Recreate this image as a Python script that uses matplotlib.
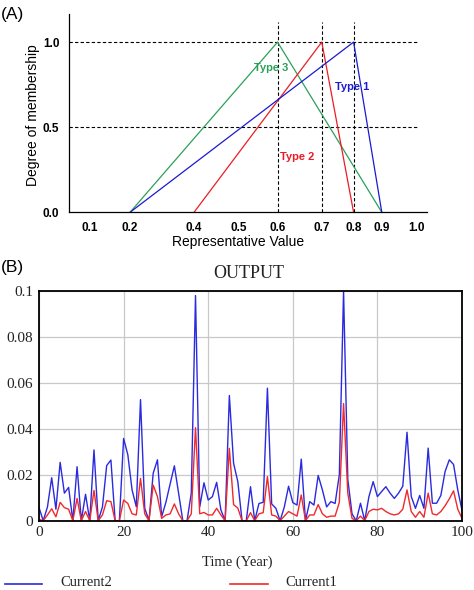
import numpy as np
import matplotlib
matplotlib.use('Agg')
import matplotlib.pyplot as plt

# ---- panel A data: triangular membership functions ----
type1_x = [0.2, 0.8, 0.9]
type2_x = [0.4, 0.7, 0.8]
type3_x = [0.2, 0.6, 0.9]
tri_y = [0.0, 1.0, 0.0]
a_xticks = [0.1, 0.2, 0.4, 0.5, 0.6, 0.7, 0.8, 0.9, 1.0]
a_yticks = [0.0, 0.5, 1.0]

# the original axis is hand drawn, so tick spacing is uneven
scale_vals = [0.0, 0.1, 0.2, 0.4, 0.5, 0.6, 0.7, 0.8, 0.9, 1.0, 1.1]
scale_pos = [50, 90, 130, 194, 239, 277.5, 321.7, 353.5, 381.7, 416, 450]

# ---- panel B data: yearly output ----
years = np.arange(0, 101)
current2 = [
    0.0057, 0.0, 0.006, 0.0187, 0.005, 0.0254, 0.012, 0.0145, 0.0, 0.0235,
    0.0, 0.0115, 0.0, 0.0308, 0.0, 0.006, 0.024, 0.0264, 0.0, 0.0,
    0.0358, 0.0287, 0.0134, 0.0061, 0.0527, 0.0054, 0.0, 0.0207, 0.0265, 0.0017,
    0.008, 0.016, 0.0239, 0.012, 0.0, 0.0, 0.012, 0.098, 0.006, 0.0165,
    0.009, 0.0105, 0.0167, 0.0047, 0.0, 0.0545, 0.025, 0.017, 0.0, 0.0,
    0.0148, 0.0, 0.0075, 0.008, 0.0577, 0.0073, 0.0054, 0.0, 0.006, 0.015,
    0.0079, 0.0068, 0.0268, 0.0, 0.0083, 0.0068, 0.0197, 0.0134, 0.006, 0.0083,
    0.0075, 0.02, 0.1, 0.018, 0.003, 0.0, 0.0076, 0.0, 0.0105, 0.017,
    0.0105, 0.0127, 0.0148, 0.012, 0.0097, 0.012, 0.015, 0.0385, 0.0105, 0.0054,
    0.011, 0.0054, 0.0316, 0.0076, 0.0076, 0.011, 0.0214, 0.0265, 0.0245, 0.0134,
    0.0045,
]
current1 = [
    0.0006, 0.0, 0.0025, 0.0052, 0.0017, 0.008, 0.0057, 0.005, 0.0, 0.0097,
    0.0, 0.004, 0.0, 0.0132, 0.0, 0.0025, 0.0087, 0.0083, 0.0, 0.0,
    0.009, 0.0075, 0.003, 0.0025, 0.0184, 0.003, 0.0, 0.0155, 0.0105, 0.001,
    0.0025, 0.003, 0.0073, 0.003, 0.0, 0.0, 0.003, 0.0405, 0.003, 0.0036,
    0.0025, 0.0025, 0.0054, 0.0025, 0.0, 0.0315, 0.007, 0.0055, 0.0, 0.0,
    0.0035, 0.0, 0.003, 0.0035, 0.0192, 0.0025, 0.002, 0.0, 0.002, 0.004,
    0.003, 0.002, 0.0112, 0.0, 0.0025, 0.0025, 0.007, 0.003, 0.0015, 0.002,
    0.002, 0.008, 0.051, 0.012, 0.001, 0.0, 0.002, 0.0, 0.004, 0.005,
    0.0047, 0.0054, 0.004, 0.003, 0.0025, 0.003, 0.005, 0.0134, 0.004, 0.0015,
    0.004, 0.0015, 0.012, 0.003, 0.0025, 0.004, 0.0065, 0.0095, 0.013, 0.005,
    0.001,
]
b_xticks = [0, 20, 40, 60, 80, 100]
b_yticks = [0, 0.02, 0.04, 0.06, 0.08, 0.1]
b_yticklabels = ['0', '0.02', '0.04', '0.06', '0.08', '0.1']

W, H = 474, 590
fig = plt.figure(figsize=(W / 100, H / 100), dpi=100)


def px_box(left, top, right, bottom):
    return [left / W, 1 - bottom / H, (right - left) / W, (bottom - top) / H]


sans = 'Liberation Sans'
serif = 'Liberation Serif'

# ================= panel A =================
ax1 = fig.add_axes(px_box(69, 14, 427, 212.3))


def fwd(v):
    return np.interp(v, scale_vals, scale_pos)


def inv(p):
    return np.interp(p, scale_pos, scale_vals)


ax1.set_xscale('function', functions=(fwd, inv))
ax1.set_xlim(0.0475, 1.032)
ax1.set_ylim(0, 1.165)

dash = (0, (3, 2))
for yv in [0.5, 1.0]:
    ax1.plot([0.0475, 1.005], [yv, yv], color='black', lw=0.8, ls=dash)
for xv in [0.6, 0.7, 0.8]:
    ax1.plot([xv, xv], [0, 1.12], color='black', lw=0.8, ls=dash)

ax1.plot(type3_x, tri_y, color='#2ca05a', lw=0.9)
ax1.plot(type2_x, tri_y, color='#ec1c24', lw=0.9)
ax1.plot(type1_x, tri_y, color='#1a1ad0', lw=0.9)

ax1.text(0.584, 0.846, 'Type 3', color='#2ca05a', fontsize=8, fontweight='bold',
         family=sans, ha='center', va='center')
ax1.text(0.794, 0.737, 'Type 1', color='#1a1ad0', fontsize=8, fontweight='bold',
         family=sans, ha='center', va='center')
ax1.text(0.645, 0.326, 'Type 2', color='#ec1c24', fontsize=8, fontweight='bold',
         family=sans, ha='center', va='center')

ax1.spines['top'].set_visible(False)
ax1.spines['right'].set_visible(False)
ax1.spines['left'].set_linewidth(0.9)
ax1.spines['bottom'].set_linewidth(0.9)
ax1.set_xticks(a_xticks)
ax1.set_xticklabels([f'{v:.1f}' for v in a_xticks])
ax1.set_yticks(a_yticks)
ax1.set_yticklabels([f'{v:.1f}' for v in a_yticks])
ax1.tick_params(length=0, pad=7, labelsize=8.5)
for lab in ax1.get_xticklabels() + ax1.get_yticklabels():
    lab.set_fontweight('bold')
    lab.set_family(sans)

fig.text(238 / W, 1 - 242 / H, 'Representative Value', fontsize=10, family=sans,
         ha='center', va='center')
fig.text(33 / W, 1 - 115 / H, 'Degree of membership', fontsize=10, family=sans,
         rotation=90, ha='center', va='center')
fig.text(1 / W, 1 - 14 / H, '(A)', fontsize=12.5, family=sans, ha='left', va='center')

# ================= panel B =================
ax2 = fig.add_axes(px_box(39, 291, 462, 520.7))
ax2.plot(years, current2, color='#2a2ae0', lw=1.0)
ax2.plot(years, current1, color='#f02a2a', lw=1.0)
ax2.set_xlim(0, 100)
ax2.set_ylim(0, 0.1)
ax2.set_xticks(b_xticks)
ax2.set_yticks(b_yticks)
ax2.set_yticklabels(b_yticklabels)
ax2.grid(True, color='#c8c8c8', lw=0.9)
ax2.set_axisbelow(True)
for s in ax2.spines.values():
    s.set_linewidth(1.3)
ax2.tick_params(length=0, pad=4, labelsize=11, labelcolor='#222222')
for lab in ax2.get_xticklabels() + ax2.get_yticklabels():
    lab.set_family(serif)

fig.text(249 / W, 1 - 274 / H, 'OUTPUT', fontsize=13, family=serif,
         ha='center', va='center', color='#222222')
fig.text(237 / W, 1 - 562 / H, 'Time (Year)', fontsize=10.5, family=serif,
         ha='center', va='center', color='#222222')
fig.text(1 / W, 1 - 268 / H, '(B)', fontsize=12.5, family=sans, ha='left', va='center')

# legend drawn along the bottom edge
fig.add_artist(plt.Line2D([5 / W, 42 / W], [1 - 584 / H, 1 - 584 / H],
                          color='#2a2ae0', lw=1.2))
fig.add_artist(plt.Line2D([230 / W, 268 / W], [1 - 584 / H, 1 - 584 / H],
                          color='#f02a2a', lw=1.2))
fig.text(60 / W, 1 - 583 / H, 'Current2', fontsize=10.5, family=serif,
         ha='left', va='center', color='#222222')
fig.text(285 / W, 1 - 583 / H, 'Current1', fontsize=10.5, family=serif,
         ha='left', va='center', color='#222222')

fig.savefig('out.png', dpi=100)
